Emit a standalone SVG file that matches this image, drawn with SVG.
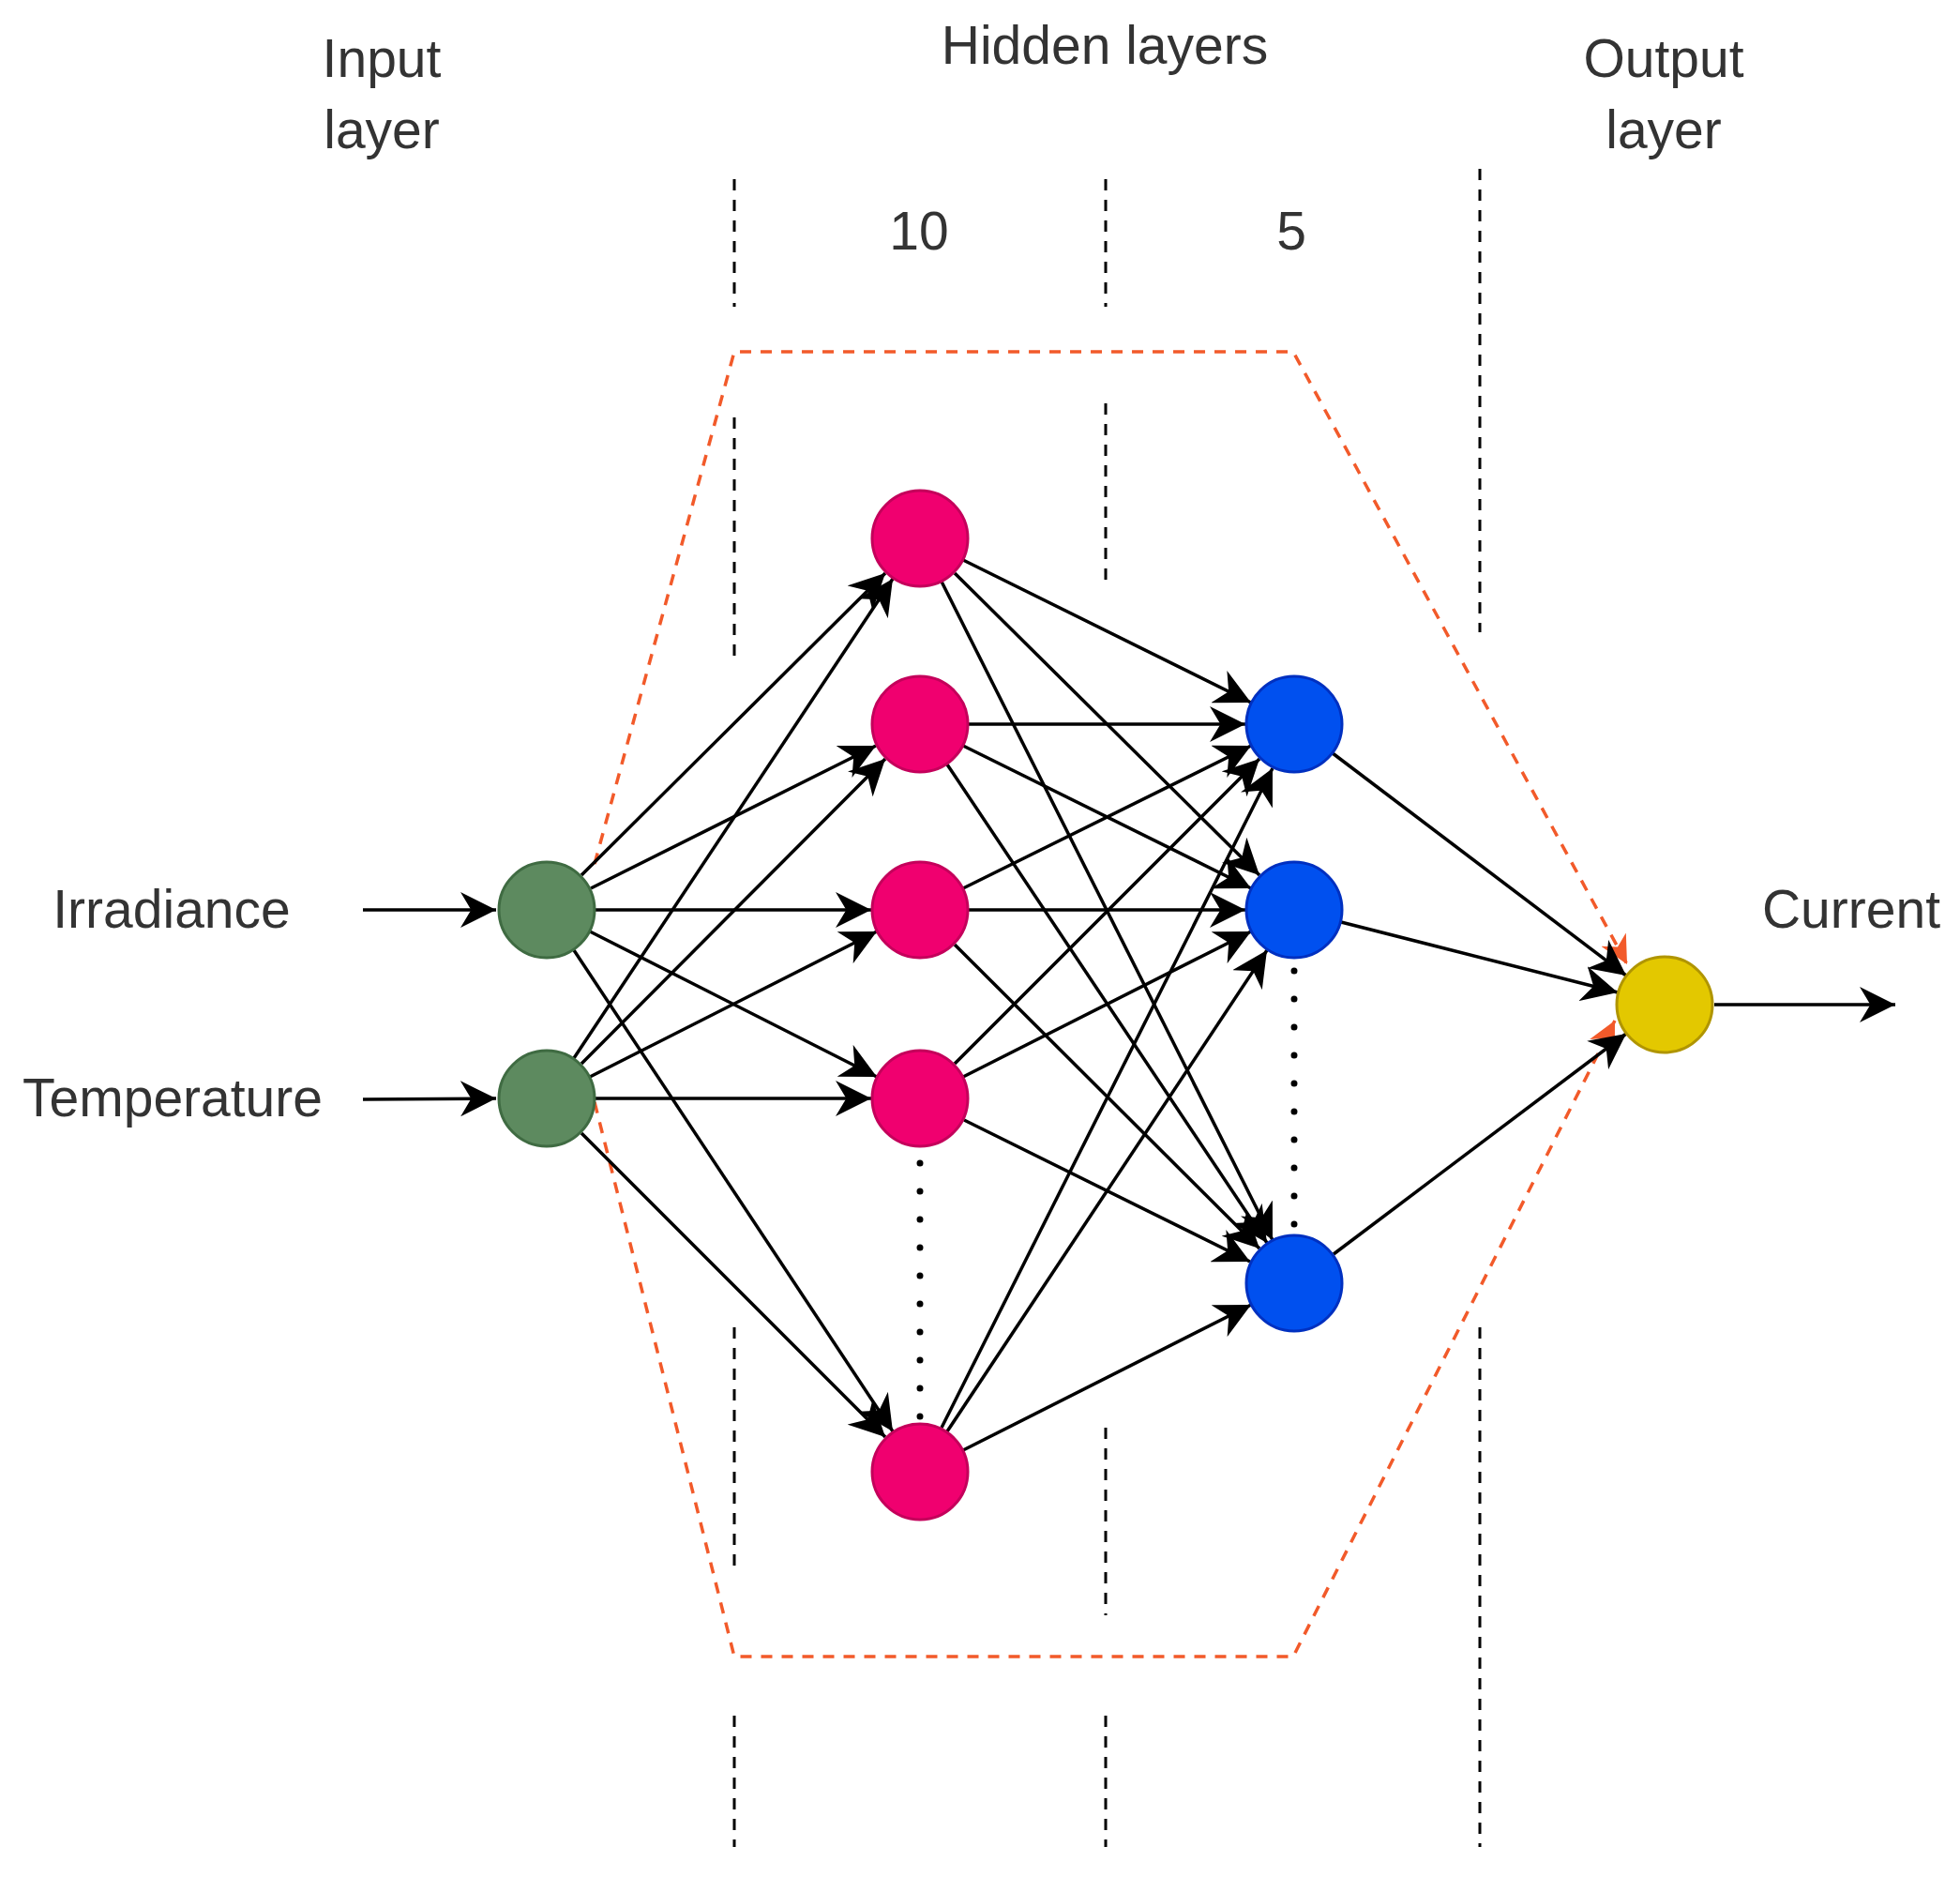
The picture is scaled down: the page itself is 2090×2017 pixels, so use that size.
<svg xmlns="http://www.w3.org/2000/svg" width="2090" height="2017" viewBox="0 0 2090 2017">
<style>
text{font-family:"Liberation Sans",Arial,sans-serif;font-size:57px;fill:#333;text-anchor:middle}
.c line{stroke:#000;stroke-width:3.5;marker-end:url(#a)}
.v{stroke:#000;stroke-width:3;stroke-dasharray:12 10;fill:none}
.o{stroke:#f25a2a;stroke-width:3.5;stroke-dasharray:12 10;fill:none}
.dot{stroke:#000;stroke-width:7;stroke-dasharray:0 30;stroke-linecap:round}
.g{fill:#5d8a5f;stroke:#3f6b42;stroke-width:3}
.p{fill:#f0006f;stroke:#c4005b;stroke-width:3}
.b{fill:#0050ef;stroke:#0030c0;stroke-width:3}
.y{fill:#e3c800;stroke:#b09500;stroke-width:3}
</style>
<defs>
<marker id="a" viewBox="0 0 10 10" refX="10" refY="5" markerWidth="38" markerHeight="38" markerUnits="userSpaceOnUse" orient="auto"><path d="M0,0 L10,5 L0,10 L3,5 z" fill="#000"/></marker>
<marker id="ao" viewBox="0 0 10 10" refX="10" refY="5" markerWidth="30" markerHeight="30" markerUnits="userSpaceOnUse" orient="auto"><path d="M0,0 L10,5 L0,10 L3,5 z" fill="#f25a2a"/></marker>
</defs>
<g id="labels">
<text x="407" y="82">Input</text><text x="407" y="158">layer</text>
<text x="1178" y="68">Hidden layers</text>
<text x="1774" y="82">Output</text><text x="1774" y="158">layer</text>
<text x="980" y="266">10</text><text x="1377" y="266">5</text>
<text x="183" y="989">Irradiance</text>
<text x="184" y="1190">Temperature</text>
<text x="1974" y="989">Current</text>
</g>
<g id="separators">
<path class="v" d="M783 191V327M783 445V701M783 1415V1669M783 1829V1969"/>
<path class="v" d="M1179 191V327M1179 430V625M1179 1522V1722M1179 1829V1969"/>
<path class="v" d="M1578 180V674M1578 1415V1969"/>
<line class="dot" x1="981" y1="1240" x2="981" y2="1515"/>
<line class="dot" x1="1380" y1="1035" x2="1380" y2="1315"/>
</g>
<g id="boundary">
<polyline class="o" points="634,921 783,375 1379,375 1735,1028" marker-end="url(#ao)"/>
<polyline class="o" points="634,1175 783,1766 1379,1766 1722,1088" marker-end="url(#ao)"/>
</g>
<g id="connectors" class="c">
<line x1="387" y1="970" x2="529" y2="970"/>
<line x1="387" y1="1172" x2="529" y2="1171"/>
<line x1="1828" y1="1071" x2="2021" y2="1071"/>
<line x1="620" y1="933" x2="944" y2="611"/>
<line x1="630" y1="947" x2="934" y2="795"/>
<line x1="635" y1="970" x2="929" y2="970"/>
<line x1="629" y1="993" x2="935" y2="1148"/>
<line x1="612" y1="1013" x2="952" y2="1526"/>
<line x1="612" y1="1128" x2="952" y2="617"/>
<line x1="620" y1="1134" x2="944" y2="809"/>
<line x1="629" y1="1148" x2="935" y2="993"/>
<line x1="635" y1="1171" x2="929" y2="1171"/>
<line x1="620" y1="1208" x2="944" y2="1532"/>
<line x1="1027" y1="597" x2="1334" y2="749"/>
<line x1="1018" y1="611" x2="1343" y2="933"/>
<line x1="1004" y1="620" x2="1357" y2="1322"/>
<line x1="1033" y1="772" x2="1328" y2="772"/>
<line x1="1027" y1="795" x2="1334" y2="947"/>
<line x1="1010" y1="815" x2="1351" y2="1325"/>
<line x1="1027" y1="947" x2="1334" y2="795"/>
<line x1="1033" y1="970" x2="1328" y2="970"/>
<line x1="1018" y1="1007" x2="1343" y2="1331"/>
<line x1="1018" y1="1134" x2="1343" y2="809"/>
<line x1="1027" y1="1148" x2="1334" y2="993"/>
<line x1="1028" y1="1194" x2="1333" y2="1345"/>
<line x1="1004" y1="1522" x2="1357" y2="819"/>
<line x1="1010" y1="1526" x2="1351" y2="1013"/>
<line x1="1027" y1="1546" x2="1334" y2="1391"/>
<line x1="1421" y1="803" x2="1734" y2="1040"/>
<line x1="1430" y1="983" x2="1725" y2="1058"/>
<line x1="1422" y1="1337" x2="1734" y2="1102"/>
</g>
<g id="in1"><circle class="g" cx="583" cy="970" r="51"/></g>
<g id="in2"><circle class="g" cx="583" cy="1171" r="51"/></g>
<g id="h1a"><circle class="p" cx="981" cy="574" r="51"/></g>
<g id="h1b"><circle class="p" cx="981" cy="772" r="51"/></g>
<g id="h1c"><circle class="p" cx="981" cy="970" r="51"/></g>
<g id="h1d"><circle class="p" cx="981" cy="1171" r="51"/></g>
<g id="h1e"><circle class="p" cx="981" cy="1569" r="51"/></g>
<g id="h2a"><circle class="b" cx="1380" cy="772" r="51"/></g>
<g id="h2b"><circle class="b" cx="1380" cy="970" r="51"/></g>
<g id="h2c"><circle class="b" cx="1380" cy="1368" r="51"/></g>
<g id="out"><circle class="y" cx="1775" cy="1071" r="51"/></g>
</svg>
